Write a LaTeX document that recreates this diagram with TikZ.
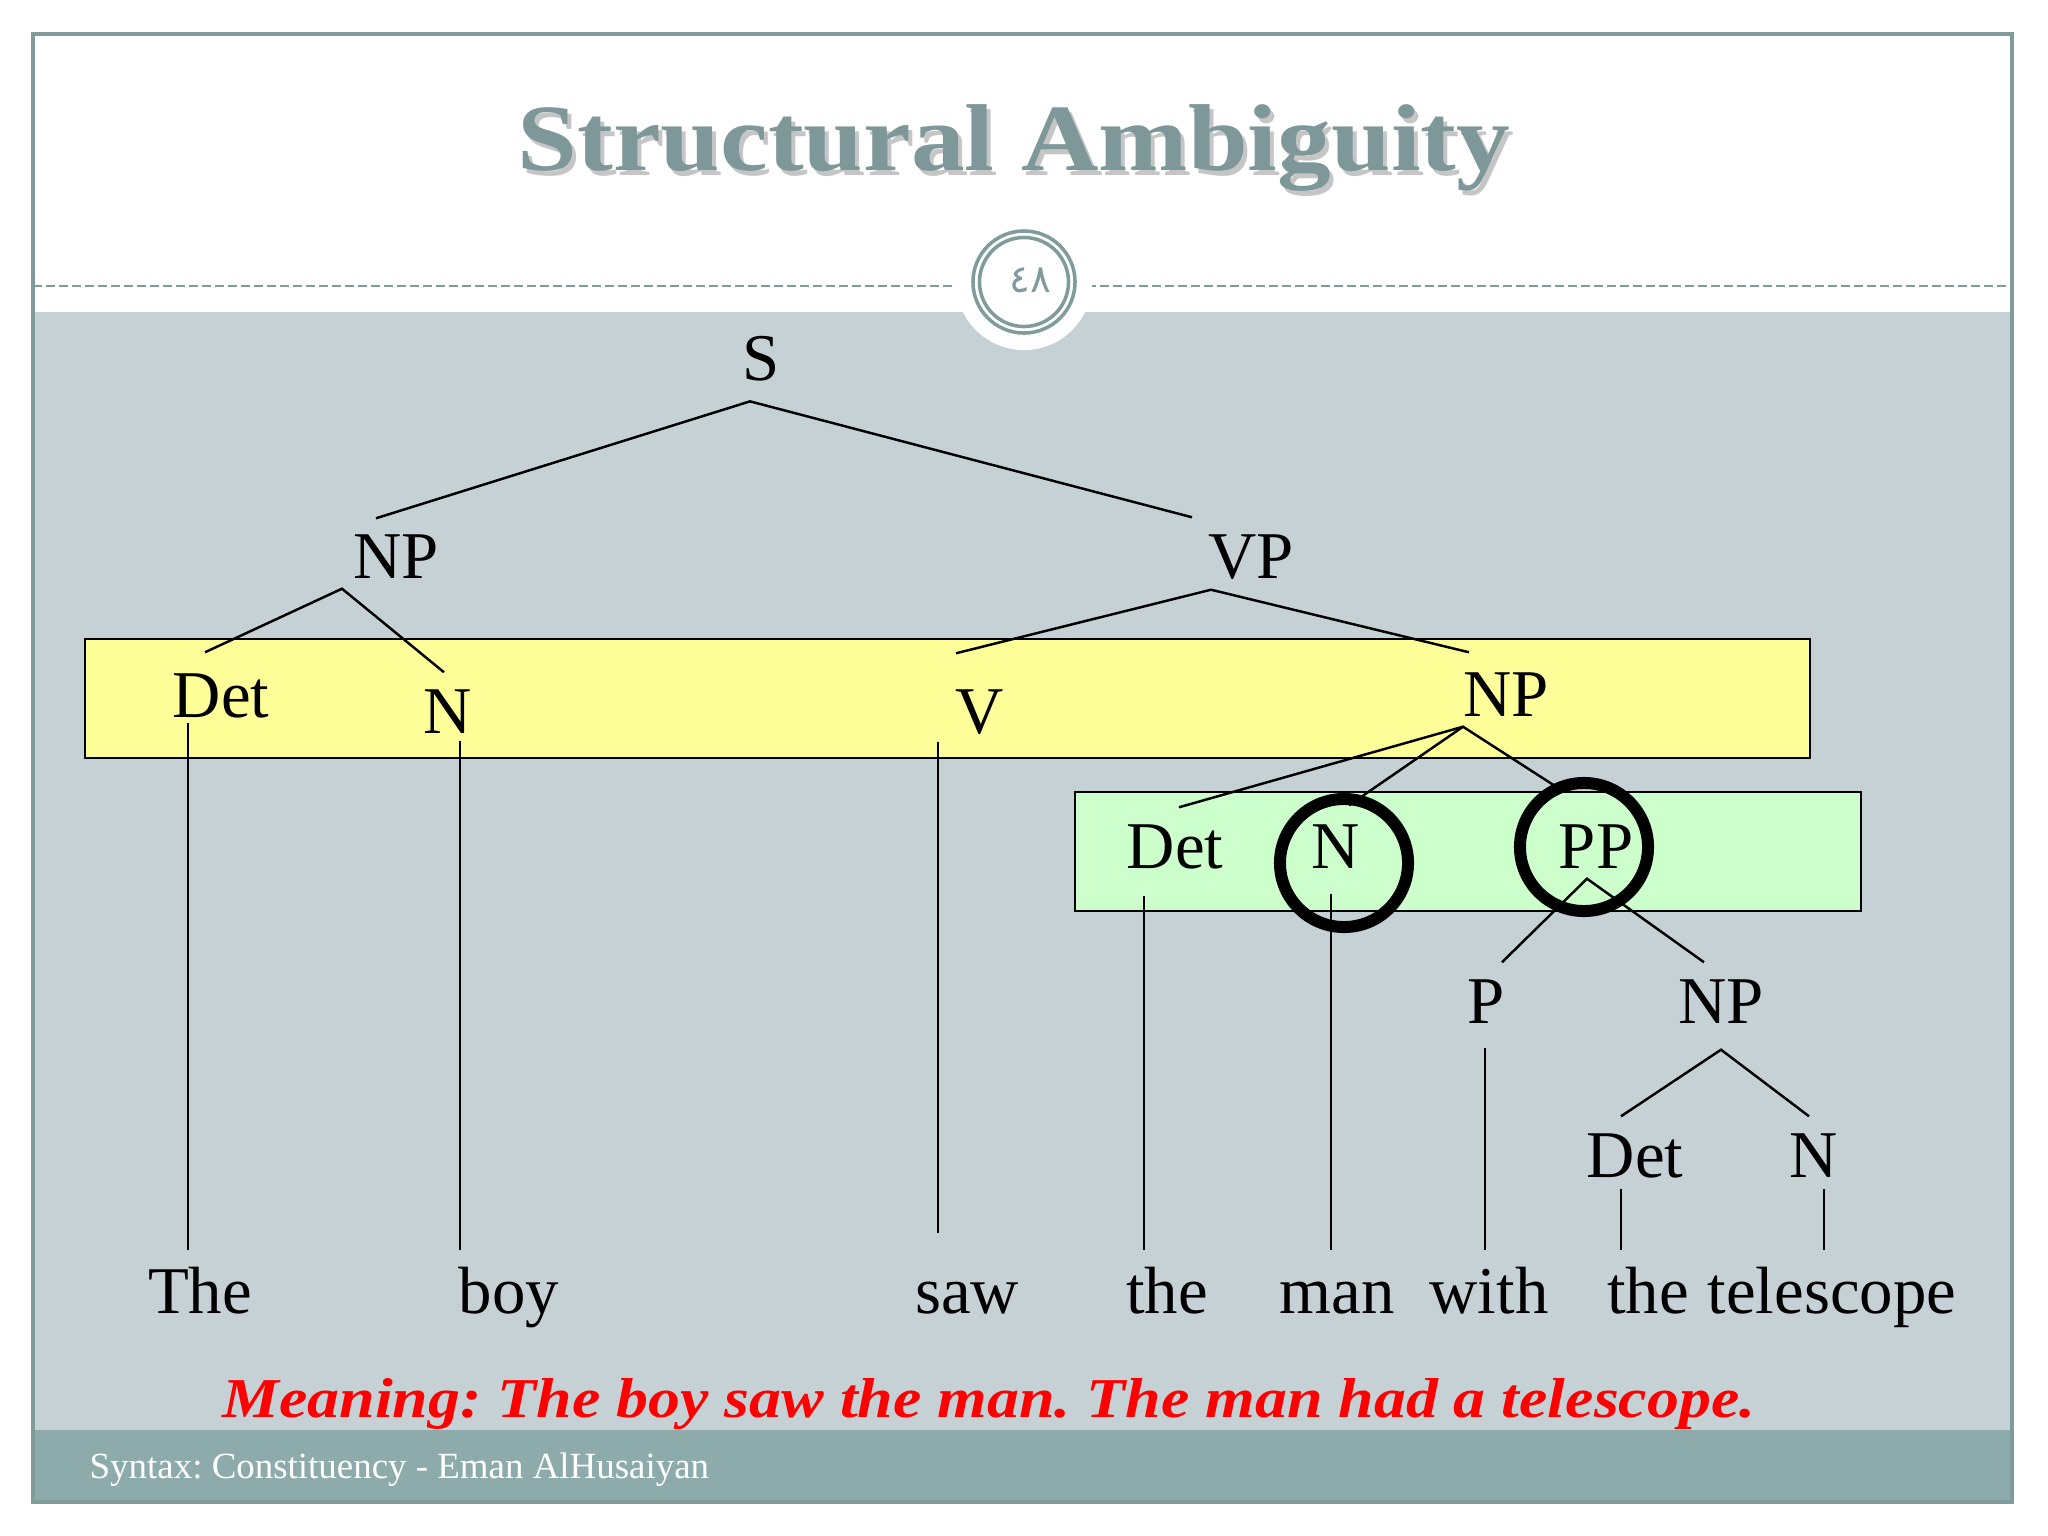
\documentclass[tikz,border=0pt]{standalone}
\usepackage{fontspec}
\setmainfont{Liberation Serif}
\newfontfamily\arabicfont[Script=Arabic]{DejaVu Sans}
\usetikzlibrary{calc}
\definecolor{slidegray}{RGB}{198,209,213}
\definecolor{footteal}{RGB}{142,171,171}
\definecolor{frameteal}{RGB}{128,155,155}
\definecolor{titleteal}{RGB}{126,151,153}
\definecolor{npyellow}{RGB}{255,255,153}
\definecolor{npgreen}{RGB}{204,255,204}
\newcommand{\treefont}{\fontsize{19}{23}\selectfont}
\newcommand{\twig}[3]{%
  \draw[branch] (#2) -- (#1) -- (#3);
}
\newcommand{\stem}[4]{%
  \draw[branch] ($(#1.south)+(#2,#3)$) -- ($(#1.south |- #4.north)+(#2,0)$);
}
\frenchspacing

\begin{document}
\begin{tikzpicture}[x=0.01cm,y=-0.01cm,
  lab/.style={font=\treefont,anchor=base,inner sep=0pt,text height=0.44cm},
  word/.style={font=\treefont,anchor=base,inner xsep=0pt,inner ysep=0.17cm,text height=0.45cm},
  ring/.style={circle,draw,line width=0.12cm,minimum size=1.28cm,inner sep=0pt},
  branch/.style={line width=0.7pt}]
  \useasboundingbox (0,0) rectangle (2048,1536);
  \fill[white] (0,0) rectangle (2048,1536);
  \fill[slidegray] (33,312) rectangle (2012,1430);
  \fill[footteal] (33,1430) rectangle (2012,1502);
  \draw[frameteal,line width=0.9pt] (33,34) rectangle (2012,1502);
  \draw[frameteal,line width=0.7pt,dash pattern=on 0.09cm off 0.04cm] (33,286) -- (2012,286);
  \fill[white] (1024,282) circle[radius=0.68cm];
  \draw[frameteal,line width=1pt] (1024,282) circle[radius=0.51cm] (1024,282) circle[radius=0.445cm];
  \node[text=frameteal,font=\fontsize{11}{13}\arabicfont] (pagenum) at (1030,280) {٤٨};

  \node[anchor=base,text=gray,opacity=0.45,font=\fontsize{27}{32}\bfseries] (titleshadow) at (1018,175) {\scalebox{1.13}[1]{Structural Ambiguity}};
  \node[anchor=base,text=titleteal,font=\fontsize{27}{32}\bfseries] (title) at (1014,170) {\scalebox{1.13}[1]{Structural Ambiguity}};

  \draw[fill=npyellow,line width=0.8pt] (85,639) rectangle (1810,758);
  \draw[fill=npgreen,line width=0.8pt] (1075,792) rectangle (1861,911);

  \node[lab] (s) at (761,380) {S};
  \node[lab] (np1) at (396,578) {NP};
  \node[lab] (vp) at (1251,578) {VP};
  \node[lab] (det1) at (221,717) {Det};
  \node[lab] (n1) at (448,733) {N};
  \node[lab] (v) at (980,733) {V};
  \node[lab] (np2) at (1506,716) {NP};
  \node[lab] (det2) at (1175,868) {Det};
  \node[lab] (n2) at (1336,868) {N};
  \node[lab] (pp) at (1596,868) {PP};
  \node[lab] (p) at (1486,1023) {P};
  \node[lab] (np3) at (1721,1023) {NP};
  \node[lab] (det3) at (1635,1177) {Det};
  \node[lab] (n3) at (1814,1177) {N};

  \foreach \x/\w/\txt in {200/the1/The,509/boy/boy,967/saw/saw,1167/the2/the,1337/man/man,1489/with/with,1648/the3/the,1832/telescope/telescope}
    \node[word] (\w) at (\x,1313) {\txt};

  \twig{$(s.south)+(-11,20)$}{$(np1.north)+(-20,-15)$}{$(vp.north)+(-59,-16)$}
  \twig{$(np1.south)+(-54,10)$}{$(det1.north)+(-16,-20)$}{$(n1.north)+(-4,-16)$}
  \twig{$(vp.south)+(-40,10)$}{$(v.north)+(-24,-35)$}{$(np2.north)+(-37,-19)$}
  \twig{$(np2.south)+(-43,10)$}{$(det2.north)+(4,-16)$}{$(pp.north)+(-39,-36)$}
  \draw[branch] ($(np2.south)+(-43,10)$) -- ($(n2.north)+(13,-18)$);
  \twig{$(pp.south)+(-9,10)$}{$(p.north)+(16,-16)$}{$(np3.north)+(-17,-16)$}
  \twig{$(np3.south)+(0,26)$}{$(det3.north)+(-14,-16)$}{$(n3.north)+(-5,-16)$}

  \stem{det1}{-33}{5}{the1}
  \stem{n1}{12}{7}{boy}
  \draw[branch] ($(v.south)+(-42,7)$) -- ($(v.south |- saw.north)+(-42,-17)$);
  \stem{det2}{-31}{27}{the2}
  \stem{n2}{-5}{25}{man}
  \stem{p}{-1}{24}{with}
  \stem{det3}{-14}{11}{the3}
  \stem{n3}{10}{11}{telescope}

  \node[ring] (n2ring) at (1344,863) {};
  \node[ring] (ppring) at (1584,847) {};

  \node[anchor=base,text=red,font=\fontsize{16}{19}\bfseries\itshape] (meaning) at (989,1417) {\scalebox{1.135}[1]{Meaning: The boy saw the man. The man had a telescope.}};
  \node[anchor=base west,inner sep=0pt,text=white,font=\fontsize{10.5}{13}\selectfont] (footer) at (89,1478) {Syntax: Constituency - Eman AlHusaiyan};
\end{tikzpicture}
\end{document}
